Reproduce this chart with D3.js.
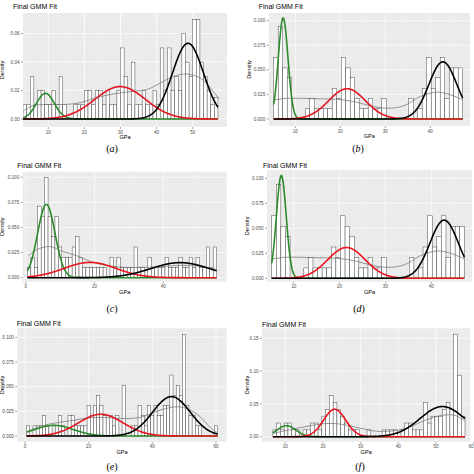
<!DOCTYPE html>
<html><head><meta charset="utf-8">
<script src="https://cdn.jsdelivr.net/npm/d3@7"></script>
<style>body{margin:0;background:#fff}svg{display:block}</style>
</head><body>
<svg id="chart" width="474" height="474"></svg>
<script>
// ---------------- DATA ----------------
const titleText = "Final GMM Fit";
const xLabel = "GPa";
const yLabel = "Density";
const captions = ["a", "b", "c", "d", "e", "f"];

// Histogram densities (bin width 1 GPa), first bin start in GPa
const histStartA = 3;
const histA = [0.01,0.01,0.03,0.01,0.02,0.02,0.01,0.01,0.02,0.01,0.03,0.01,0,0,0.01,0.01,0.01,0.02,0.02,0.01,
  0.02,0.02,0.01,0.02,0.01,0.01,0.02,0.05,0.03,0.01,0.04,0.01,0.01,0.02,0.01,0.01,0.02,0.01,0.05,0.02,
  0.05,0.02,0.03,0.02,0.06,0.04,0.03,0.07,0.07,0.04,0.03,0.02,0.01,0.015];
const histStartB = 5.2;
const histB = [0.0625,0.094,0.052,0.042,0,0,0,0.0104,0.0208,0.0104,0.0104,0.0104,0.0104,0.0313,0.0208,0.0625,0.052,0.042,0.0208,0.0104,
  0.0104,0.0208,0.0104,0.0104,0.0208,0,0,0,0,0,0.0208,0,0.0104,0.0313,0.0625,0.0313,0.042,0.0625,0.0208,0.052,
  0.052,0.052];
const histStartC = 0.5;
const histC = [0.0102,0.0204,0.0102,0.0713,0.0611,0.1,0.0611,0.0408,0.0611,0.0306,0.0204,0.0204,0.0204,0.0306,0.0408,0.0204,0.0102,0.0102,0.0102,0.0102,
  0.0102,0.0102,0.0102,0,0.0204,0.0102,0.0204,0.0102,0.0102,0.0102,0.0102,0.0306,0.0102,0.0102,0,0.0204,0.0102,0.0102,0.0102,0.0102,
  0.0204,0.0102,0.0102,0.0102,0.0204,0.0102,0.0102,0.0204,0.0102,0.0204,0.0102,0.0102,0.0306,0.0102,0.0306];
const histStartE = 0.5;
const histE = [0.0103,0,0.0103,0.0103,0.0103,0.0206,0.0103,0.0103,0,0.0103,0.0206,0.0103,0,0.0206,0.0206,0.0103,0.0103,0.0103,0.0103,0.0309,
  0.0206,0.0309,0.0412,0.0309,0.0206,0.0206,0.0206,0.0103,0.0206,0,0.0515,0,0,0.0103,0.0103,0.0309,0.0206,0.0103,0.0309,0.0206,
  0.0309,0.0206,0.0206,0.0309,0.0309,0.0618,0.0412,0.0515,0.0412,0.1031,0.0309,0.0206,0.0206,0.0103,0.0103,0,0,0,0,0.0103];
const histStartF = 6.7;
const histF = [0.0104,0.0208,0.0104,0.0208,0.0208,0.0104,0.0104,0,0.0104,0.0104,0.0208,0.0208,0.0104,0.0313,0.0417,0.0625,0.0521,0.0417,0.0313,0.0208,
  0.0104,0.0104,0.0104,0,0,0.0104,0,0,0,0.0104,0.0104,0.0104,0.0104,0,0.0104,0.0208,0.0208,0.0104,0.0104,0.0104,
  0.0521,0.0208,0.0313,0.0313,0.0313,0.0417,0.0521,0.0417,0.1563,0.0938,0.0313];

// GMM components [mean, sd, weight]: green, red, black
const compA = [[9.2,2.5,0.113],[29.9,7.0,0.40],[48.7,4.3,0.574]];
const compB = [[7.3,1.07,0.276],[21.5,4.07,0.314],[42.8,3.1,0.452]];
const compC = [[6.0,2.53,0.463],[18.7,7.6,0.29],[44.9,8.5,0.32]];
const compE = [[9.1,6.1,0.165],[23.8,7.0,0.386],[46.0,5.9,0.59]];
const compF = [[10.3,2.5,0.105],[23.1,2.93,0.307],[51.7,5.9,0.68]];

// Thin grey overall density curve, read points [GPa, density]
const grayA = [[3.06,0.0056],[5.8,0.0095],[9.5,0.0102],[14.2,0.0102],[18.8,0.0114],[22.5,0.0144],[26.2,0.0167],[29.9,0.0184],
  [33.6,0.0195],[37.3,0.0207],[41,0.0253],[44.7,0.030],[48.4,0.0316],[52.1,0.0288],[54.9,0.0219],[57.2,0.0144]];
const grayB = [[5.4,0.0195],[8.1,0.021],[11.9,0.021],[15.6,0.0205],[19.3,0.020],[23,0.0178],[26.7,0.0134],[30.4,0.011],
  [34.1,0.0134],[37.8,0.023],[41.5,0.0274],[44.4,0.0247],[47.2,0.0195]];
const grayC = [[0.8,0.022],[3.2,0.028],[7.1,0.031],[10.9,0.026],[14.8,0.022],[18.7,0.0163],[23.5,0.0123],[28.4,0.0103],
  [33.2,0.0103],[38.1,0.0107],[42.9,0.012],[47.8,0.0123],[51.6,0.011],[55.5,0.008]];
const grayE = [[0.5,0.004],[4.9,0.010],[10.2,0.0135],[15.4,0.016],[20.6,0.0186],[25.9,0.0186],[31.1,0.0176],[36.3,0.019],
  [41.6,0.0253],[46.8,0.0294],[49.9,0.0287],[54.1,0.022],[58.3,0.0084],[60.4,0.0034]];
const grayF = [[6.7,0.005],[11.6,0.011],[16,0.016],[20.5,0.020],[24.9,0.019],[29.3,0.0137],[33.8,0.0086],[38.2,0.0086],
  [42.6,0.0137],[47.1,0.025],[51.5,0.0325],[55,0.0325],[57.7,0.024]];

// Axis ticks
const xTicksA = [10,20,30,40,50];
const yTicksA = [0,0.02,0.04,0.06];
const xTicksB = [10,20,30,40];
const yTicksB = [0,0.025,0.05,0.075,0.1];
const xTicksC = [0,20,40];
const xTicksE = [0,20,40,60];
const xTicksF = [10,20,30,40,50,60];
const yTicksF = [0,0.05,0.10,0.15];

// ---------------- ASSEMBLY ----------------
const panels = [
  {hist: histA, start: histStartA, comps: compA, gray: grayA, xt: xTicksA, yt: yTicksA, fmt: ".2f"},
  {hist: histB, start: histStartB, comps: compB, gray: grayB, xt: xTicksB, yt: yTicksB, fmt: ".3f"},
  {hist: histC, start: histStartC, comps: compC, gray: grayC, xt: xTicksC, yt: yTicksB, fmt: ".3f"},
  {hist: histB, start: histStartB, comps: compB, gray: grayB, xt: xTicksB, yt: yTicksB, fmt: ".3f"},
  {hist: histE, start: histStartE, comps: compE, gray: grayE, xt: xTicksE, yt: yTicksB, fmt: ".3f"},
  {hist: histF, start: histStartF, comps: compF, gray: grayF, xt: xTicksF, yt: yTicksF, fmt: ".2f"}
];
// layout: panel rect, x calibration [v1,px1,v2,px2], y calibration, title pos, y-label x, caption pos
const layout = [
  {rect:[23,13,227,127],     xc:[10,48.3,50,192.7],  yc:[0,119,0.06,33.7],    title:[13,8.5],    ylx:2.5,   cap:[112,151.5]},
  {rect:[268.7,13,470,126],  xc:[10,295.3,40,430.3], yc:[0,119,0.1,20.7],     title:[258.7,8.5], ylx:248.7, cap:[358,151.5]},
  {rect:[22.7,171.7,226.7,281.7], xc:[0,25.7,40,163.3], yc:[0,277.7,0.1,177.3], title:[17.3,167.5], ylx:2.5, cap:[112,311.5]},
  {rect:[267,170,472,281.7], xc:[10,293.7,40,431.3], yc:[0,278.3,0.1,178.3],  title:[263,167.5], ylx:247,   cap:[359,311.5]},
  {rect:[17.3,328.3,226.7,441.7], xc:[0,25,60,216], yc:[0,436,0.1,337.3],     title:[16.7,326],  ylx:2.5,   cap:[112,469.5]},
  {rect:[262,328.3,470.3,441.7], xc:[10,285.3,50,436], yc:[0,436.7,0.15,338.3], title:[262,326.5], ylx:247,  cap:[360,469.5]}
];
const compColors = ["#2b8a2b", "#e8151f", "#000000"];
const sans = "Liberation Sans, Arial, sans-serif";
const W = 474;

const svg = d3.select("#chart");
const defs = svg.append("defs");

panels.forEach((p, k) => {
  const L = layout[k];
  const [rx0, ry0, rx1, ry1] = L.rect;
  const x = d3.scaleLinear().domain([L.xc[0], L.xc[2]]).range([L.xc[1], L.xc[3]]);
  const y = d3.scaleLinear().domain([L.yc[0], L.yc[2]]).range([L.yc[1], L.yc[3]]);
  const cid = "clip" + k;
  defs.append("clipPath").attr("id", cid).append("rect")
    .attr("x", rx0).attr("y", ry0).attr("width", rx1 - rx0).attr("height", ry1 - ry0);

  const g = svg.append("g");
  g.append("rect").attr("x", rx0).attr("y", ry0).attr("width", rx1 - rx0).attr("height", ry1 - ry0)
    .attr("fill", "#EBEBEB");

  const xDom = [x.invert(rx0), x.invert(rx1)];
  const yDom = [y.invert(ry1), y.invert(ry0)];
  const minors = (t, dom) => {
    const s = t[1] - t[0];
    const m = [t[0] - s / 2].concat(t.map(v => v + s / 2));
    return m.filter(v => v > dom[0] && v < dom[1]);
  };
  const inX = v => v >= xDom[0] && v <= xDom[1];
  const inY = v => v >= yDom[0] && v <= yDom[1];

  // minor grid
  g.selectAll(null).data(minors(p.xt, xDom)).join("line")
    .attr("x1", d => x(d)).attr("x2", d => x(d)).attr("y1", ry0).attr("y2", ry1)
    .attr("stroke", "#F7F7F7").attr("stroke-width", 0.35);
  g.selectAll(null).data(minors(p.yt, yDom)).join("line")
    .attr("y1", d => y(d)).attr("y2", d => y(d)).attr("x1", rx0).attr("x2", rx1)
    .attr("stroke", "#F7F7F7").attr("stroke-width", 0.35);
  // major grid
  g.selectAll(null).data(p.xt.filter(inX)).join("line")
    .attr("x1", d => x(d)).attr("x2", d => x(d)).attr("y1", ry0).attr("y2", ry1)
    .attr("stroke", "#FFFFFF").attr("stroke-width", 0.7);
  g.selectAll(null).data(p.yt.filter(inY)).join("line")
    .attr("y1", d => y(d)).attr("y2", d => y(d)).attr("x1", rx0).attr("x2", rx1)
    .attr("stroke", "#FFFFFF").attr("stroke-width", 0.7);

  const inner = g.append("g").attr("clip-path", `url(#${cid})`);
  // histogram
  const bins = p.hist.map((v, i) => ({a: p.start + i, b: p.start + i + 1, v}));
  inner.selectAll(null).data(bins.filter(d => d.v > 0)).join("rect")
    .attr("x", d => x(d.a)).attr("width", d => x(d.b) - x(d.a))
    .attr("y", d => y(d.v)).attr("height", d => y(0) - y(d.v))
    .attr("fill", "#FFFFFF").attr("stroke", "#3a3a3a").attr("stroke-width", 0.45);

  // grey overall curve
  inner.append("path").datum(p.gray)
    .attr("d", d3.line().x(d => x(d[0])).y(d => y(d[1])).curve(d3.curveCatmullRom))
    .attr("fill", "none").attr("stroke", "#6e6e6e").attr("stroke-width", 0.7);

  // components
  const lo = p.start, hi = p.start + p.hist.length;
  const xsamp = d3.range(301).map(j => lo + (hi - lo) * j / 300);
  p.comps.forEach((c, ci) => {
    const [mu, sd, w] = c;
    const pts = xsamp.map(v => [v, w * Math.exp(-((v - mu) ** 2) / (2 * sd * sd)) / (sd * Math.sqrt(2 * Math.PI))]);
    inner.append("path").datum(pts)
      .attr("d", d3.line().x(d => x(d[0])).y(d => y(d[1])))
      .attr("fill", "none").attr("stroke", compColors[ci]).attr("stroke-width", 1.6)
      .attr("stroke-linejoin", "round");
  });

  // axes ticks & labels
  const fmt = d3.format(p.fmt);
  g.selectAll(null).data(p.yt.filter(inY)).join("line")
    .attr("x1", rx0 - 2).attr("x2", rx0).attr("y1", d => y(d)).attr("y2", d => y(d))
    .attr("stroke", "#333").attr("stroke-width", 0.45);
  g.selectAll(null).data(p.yt.filter(inY)).join("text")
    .attr("x", rx0 - 3.5).attr("y", d => y(d) + 1.6).attr("text-anchor", "end")
    .attr("font-family", sans).attr("font-size", 4.6).attr("fill", "#4D4D4D").text(d => fmt(d));
  g.selectAll(null).data(p.xt).join("line")
    .attr("x1", d => x(d)).attr("x2", d => x(d)).attr("y1", ry1).attr("y2", ry1 + 2)
    .attr("stroke", "#333").attr("stroke-width", 0.45);
  g.selectAll(null).data(p.xt).join("text")
    .attr("x", d => Math.min(x(d), W - 3)).attr("y", ry1 + 6.5)
    .attr("text-anchor", d => x(d) > W - 3 ? "end" : "middle")
    .attr("dx", d => x(d) > W - 3 ? 2.5 : 0)
    .attr("font-family", sans).attr("font-size", 4.6).attr("fill", "#4D4D4D").text(d => d);

  // axis titles
  g.append("text").attr("x", (rx0 + rx1) / 2).attr("y", ry1 + 12)
    .attr("text-anchor", "middle").attr("font-family", sans).attr("font-size", 5.6).attr("fill", "#000")
    .text(xLabel);
  g.append("text").attr("transform", `translate(${L.ylx},${(ry0 + ry1) / 2}) rotate(-90)`)
    .attr("text-anchor", "middle").attr("dy", "0.35em").attr("font-family", sans).attr("font-size", 5.6)
    .attr("fill", "#000").text(yLabel);
  // title
  g.append("text").attr("x", L.title[0]).attr("y", L.title[1])
    .attr("font-family", sans).attr("font-size", 7).attr("fill", "#000").text(titleText);
  // caption
  const cap = g.append("text").attr("x", L.cap[0]).attr("y", L.cap[1]).attr("text-anchor", "middle")
    .attr("font-family", "Liberation Serif, Times New Roman, serif").attr("font-size", 10).attr("fill", "#000");
  cap.append("tspan").text("(");
  cap.append("tspan").attr("font-style", "italic").text(captions[k]);
  cap.append("tspan").text(")");
});
</script>
</body></html>
